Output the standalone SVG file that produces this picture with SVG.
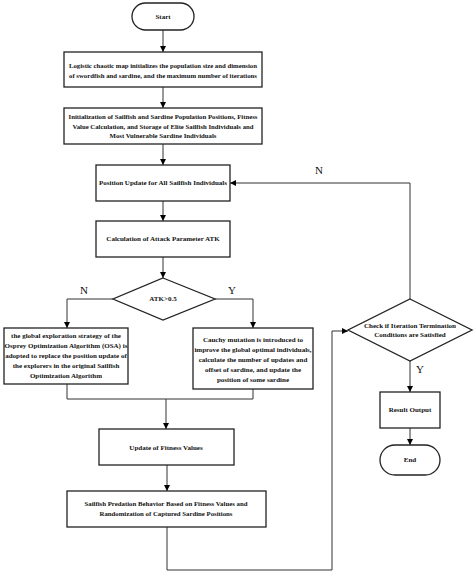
<svg xmlns="http://www.w3.org/2000/svg" width="474" height="576" viewBox="0 0 474 576">
<defs>
<marker id="ah" markerWidth="6" markerHeight="6" refX="6" refY="3" orient="auto" markerUnits="userSpaceOnUse">
<path d="M0,0 L6,3 L0,6 Z" fill="#000"/>
</marker>
<style>
.n{fill:#fff;stroke:#222;stroke-width:1.3}
.t{font-family:"Liberation Serif","Times New Roman",serif;font-weight:bold;font-size:7px;fill:#111;text-anchor:middle;dominant-baseline:central}
.l{font-family:"Liberation Serif","Times New Roman",serif;font-size:11px;fill:#111;text-anchor:middle;dominant-baseline:central}
.c{fill:none;stroke:#333;stroke-width:1}
</style>
</defs>
<rect width="474" height="576" fill="#fff"/>
<g id="connectors">
<path class="c" d="M163,30 V52" marker-end="url(#ah)"/>
<path class="c" d="M163,87 V108" marker-end="url(#ah)"/>
<path class="c" d="M163,144 V165" marker-end="url(#ah)"/>
<path class="c" d="M163,201 V221" marker-end="url(#ah)"/>
<path class="c" d="M163,257 V278" marker-end="url(#ah)"/>
<path class="c" d="M113,299 H67 V328" marker-end="url(#ah)"/>
<path class="c" d="M215,299 H253 V328" marker-end="url(#ah)"/>
<path class="c" d="M67,384 V399 H253 V389"/>
<path class="c" d="M166,399 V429" marker-end="url(#ah)"/>
<path class="c" d="M167,465 V491" marker-end="url(#ah)"/>
<path class="c" d="M167,527 V570 H332 V331 H348" marker-end="url(#ah)"/>
<path class="c" d="M410,299 V183 H230" marker-end="url(#ah)"/>
<path class="c" d="M410,361 V392" marker-end="url(#ah)"/>
<path class="c" d="M410,428 V445" marker-end="url(#ah)"/>
<text class="l" x="319" y="170">N</text>
<text class="l" x="84" y="290">N</text>
<text class="l" x="232" y="290">Y</text>
<text class="l" x="420" y="369">Y</text>
</g>
<g id="start">
<rect class="n" x="132" y="3" width="62" height="27" rx="13.5"/>
<text class="t" x="163" y="17">Start</text>
</g>
<g id="init-map">
<rect class="n" x="64" y="52" width="198" height="35"/>
<text class="t" x="163" y="65.5" textLength="188" lengthAdjust="spacingAndGlyphs">Logistic chaotic map initializes the population size and dimension</text>
<text class="t" x="163" y="75.5" textLength="188" lengthAdjust="spacingAndGlyphs">of swordfish and sardine, and the maximum number of iterations</text>
</g>
<g id="init-pop">
<rect class="n" x="64" y="108" width="198" height="36"/>
<text class="t" x="163" y="117" textLength="189" lengthAdjust="spacingAndGlyphs">Initialization of Sailfish and Sardine Population Positions, Fitness</text>
<text class="t" x="163" y="126.5" textLength="181" lengthAdjust="spacingAndGlyphs">Value Calculation, and Storage of Elite Sailfish Individuals and</text>
<text class="t" x="163" y="136" textLength="107" lengthAdjust="spacingAndGlyphs">Most Vulnerable Sardine Individuals</text>
</g>
<g id="position-update">
<rect class="n" x="96" y="165" width="134" height="36"/>
<text class="t" x="163" y="183">Position Update for All Sailfish Individuals</text>
</g>
<g id="atk-calc">
<rect class="n" x="96" y="221" width="134" height="36"/>
<text class="t" x="163" y="239">Calculation of Attack Parameter ATK</text>
</g>
<g id="atk-decision">
<polygon class="n" points="163,278 215,299 163,320 113,299"/>
<text class="t" x="163" y="299">ATK&gt;0.5</text>
</g>
<g id="osa">
<rect class="n" x="4" y="328" width="124" height="56"/>
<text class="t" x="66" y="336">the global exploration strategy of the</text>
<text class="t" x="66" y="346">Osprey Optimization Algorithm (OSA) is</text>
<text class="t" x="66" y="356">adopted to replace the position update of</text>
<text class="t" x="66" y="366">the explorers in the original Sailfish</text>
<text class="t" x="66" y="376">Optimization Algorithm</text>
</g>
<g id="cauchy">
<rect class="n" x="193" y="328" width="120" height="61"/>
<text class="t" x="253" y="340">Cauchy mutation is introduced to</text>
<text class="t" x="253" y="349.5">improve the global optimal individuals,</text>
<text class="t" x="253" y="359.5">calculate the number of updates and</text>
<text class="t" x="253" y="369.5">offset of sardine, and update the</text>
<text class="t" x="253" y="379.5">position of some sardine</text>
</g>
<g id="fitness-update">
<rect class="n" x="99" y="429" width="135" height="36"/>
<text class="t" x="166" y="448">Update of Fitness Values</text>
</g>
<g id="predation">
<rect class="n" x="67" y="491" width="199" height="36"/>
<text class="t" x="166" y="504" textLength="163" lengthAdjust="spacingAndGlyphs">Sailfish Predation Behavior Based on Fitness Values and</text>
<text class="t" x="166" y="514" textLength="133" lengthAdjust="spacingAndGlyphs">Randomization of Captured Sardine Positions</text>
</g>
<g id="termination">
<polygon class="n" points="410,299 472,330 410,361 348,330"/>
<text class="t" x="410" y="325.5">Check if Iteration Termination</text>
<text class="t" x="410" y="335">Conditions are Satisfied</text>
</g>
<g id="result">
<rect class="n" x="380" y="392" width="60" height="36"/>
<text class="t" x="410" y="410">Result Output</text>
</g>
<g id="end">
<rect class="n" x="380" y="445" width="60" height="30" rx="15"/>
<text class="t" x="410" y="460">End</text>
</g>
</svg>
